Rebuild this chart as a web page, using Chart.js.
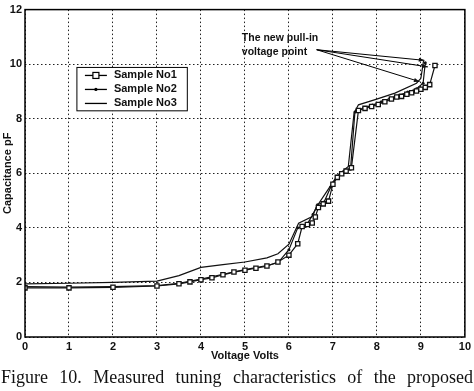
<!DOCTYPE html>
<html>
<head>
<meta charset="utf-8">
<script src="https://cdn.jsdelivr.net/npm/chart.js@4.4.0/dist/chart.umd.min.js"></script>
<style>
  html, body { margin: 0; padding: 0; background: #fff; }
  #wrap { position: relative; width: 474px; height: 391px; overflow: hidden; }
  #chart { position: absolute; left: 0; top: 0; }
  #caption {
    position: absolute; left: 1px; top: 367px; width: 472px;
    font-family: "Liberation Serif", "DejaVu Serif", serif; font-size: 18px;
    line-height: 20px; color: #111; white-space: nowrap;
    text-align: justify; text-align-last: justify;
  }
</style>
</head>
<body>
<div id="wrap">
  <canvas id="chart" width="474" height="391"></canvas>
  <div id="caption">Figure 10. Measured tuning characteristics of the proposed</div>
</div>
<script>
// Sample No1 (open squares)
const volts1 = [0, 1, 2, 3, 3.5, 3.75, 4, 4.25, 4.5, 4.75, 5, 5.25, 5.5, 5.75, 6,
  6.2, 6.3, 6.42, 6.53, 6.6, 6.67, 6.78, 6.9, 7.0, 7.1, 7.2, 7.3, 7.42,
  7.58, 7.73, 7.88, 8.03, 8.18, 8.33, 8.45, 8.56, 8.68, 8.79, 8.9, 9.0, 9.1, 9.2, 9.32];
const cap1 = [1.8, 1.8, 1.82, 1.87, 1.95, 2.02, 2.1, 2.17, 2.28, 2.38, 2.45, 2.52, 2.6, 2.75, 3.0,
  3.42, 4.05, 4.12, 4.18, 4.4, 4.75, 4.88, 4.98, 5.6, 5.85, 5.98, 6.08, 6.2,
  8.3, 8.38, 8.45, 8.52, 8.62, 8.72, 8.8, 8.82, 8.9, 8.95, 9.02, 9.08, 9.15, 9.25, 9.95];

// Sample No2 (small dots)
const volts2 = [0, 1, 2, 3, 3.5, 4, 4.5, 5, 5.5, 5.75, 6, 6.2, 6.4, 6.55, 6.65, 6.8, 6.95,
  7.1, 7.25, 7.4, 7.5, 7.7, 7.9, 8.1, 8.3, 8.5, 8.7, 8.9, 9.05, 9.1];
const cap2 = [1.85, 1.83, 1.85, 1.88, 1.97, 2.12, 2.3, 2.47, 2.62, 2.72, 3.2, 4.0, 4.1, 4.5, 4.85, 4.95, 5.5,
  5.9, 6.05, 6.15, 8.25, 8.4, 8.5, 8.62, 8.75, 8.85, 8.98, 9.1, 9.3, 10.05];

// Sample No3 (plain line)
const volts3 = [0, 1, 2, 3, 3.5, 4, 4.5, 5, 5.5, 5.75, 6, 6.22, 6.52, 6.64, 6.9, 7.05, 7.2,
  7.35, 7.48, 7.58, 7.96, 8.41, 8.9, 9.0, 9.06];
const cap3 = [1.95, 1.97, 2.0, 2.05, 2.25, 2.55, 2.65, 2.75, 2.9, 3.05, 3.4, 4.17, 4.41, 4.8, 5.43, 5.8, 6.05,
  6.25, 8.2, 8.51, 8.7, 8.94, 9.3, 9.48, 10.12];

const seriesNames = ['Sample No1', 'Sample No2', 'Sample No3'];
const xTicks = [0, 1, 2, 3, 4, 5, 6, 7, 8, 9, 10];
const yTicks = [0, 2, 4, 6, 8, 10, 12];

// note "The new pull-in voltage point" (data units)
const noteLines = ['The new pull-in', 'voltage point'];
const noteAt = [4.93, 10.96];
const arrowFrom = [6.63, 10.53];
const arrowTips = [[9.08, 10.14], [9.16, 9.9], [8.97, 9.36]];

function pts(xs, ys) {
  return xs.map(function (x, i) { return { x: x, y: ys[i] }; });
}

const boldFont = '"Liberation Sans", Arial, sans-serif';

const extras = {
  id: 'extras',
  afterDatasetsDraw(chart) {
    const ctx = chart.ctx;
    const a = chart.chartArea;
    const sx = chart.scales.x, sy = chart.scales.y;
    ctx.save();
    // axes box
    ctx.strokeStyle = '#000';
    ctx.lineWidth = 1.5;
    ctx.strokeRect(a.left, a.top, a.right - a.left, a.bottom - a.top);

    // note text + arrows
    ctx.fillStyle = '#111';
    ctx.font = 'bold 10.5px ' + boldFont;
    ctx.textBaseline = 'middle';
    ctx.fillText(noteLines[0], sx.getPixelForValue(noteAt[0]), sy.getPixelForValue(noteAt[1]));
    ctx.fillText(noteLines[1], sx.getPixelForValue(noteAt[0]), sy.getPixelForValue(noteAt[1]) + 14);
    const fx = sx.getPixelForValue(arrowFrom[0]), fy = sy.getPixelForValue(arrowFrom[1]);
    ctx.lineWidth = 1;
    arrowTips.forEach(function (t) {
      const tx = sx.getPixelForValue(t[0]), ty = sy.getPixelForValue(t[1]);
      ctx.beginPath();
      ctx.moveTo(fx, fy);
      ctx.lineTo(tx, ty);
      ctx.stroke();
      const ang = Math.atan2(ty - fy, tx - fx);
      ctx.beginPath();
      ctx.moveTo(tx, ty);
      ctx.lineTo(tx - 6 * Math.cos(ang - 0.35), ty - 6 * Math.sin(ang - 0.35));
      ctx.lineTo(tx - 6 * Math.cos(ang + 0.35), ty - 6 * Math.sin(ang + 0.35));
      ctx.closePath();
      ctx.fill();
    });

    // legend box
    const lx0 = sx.getPixelForValue(1.18), lx1 = sx.getPixelForValue(3.69);
    const ly0 = sy.getPixelForValue(9.88), ly1 = sy.getPixelForValue(8.29);
    ctx.fillStyle = '#fff';
    ctx.fillRect(lx0, ly0, lx1 - lx0, ly1 - ly0);
    ctx.lineWidth = 1;
    ctx.strokeStyle = '#000';
    ctx.strokeRect(lx0, ly0, lx1 - lx0, ly1 - ly0);
    ctx.font = 'bold 11px ' + boldFont;
    ctx.fillStyle = '#111';
    seriesNames.forEach(function (name, i) {
      const y = ly0 + 8 + i * 14;
      ctx.beginPath();
      ctx.lineWidth = 1.3;
      ctx.moveTo(lx0 + 8, y);
      ctx.lineTo(lx0 + 30, y);
      ctx.stroke();
      if (i === 0) {
        ctx.fillStyle = '#fff';
        ctx.fillRect(lx0 + 16, y - 3, 6, 6);
        ctx.lineWidth = 1.2;
        ctx.strokeRect(lx0 + 16, y - 3, 6, 6);
      } else if (i === 1) {
        ctx.fillStyle = '#000';
        ctx.beginPath();
        ctx.arc(lx0 + 19, y, 1.6, 0, Math.PI * 2);
        ctx.fill();
      }
      ctx.fillStyle = '#111';
      ctx.fillText(name, lx0 + 37, y);
    });
    ctx.restore();
  }
};

const lineCommon = { showLine: true, borderColor: '#111', borderWidth: 1.2, tension: 0 };

new Chart(document.getElementById('chart'), {
  type: 'scatter',
  data: {
    datasets: [
      Object.assign({ label: seriesNames[0], data: pts(volts1, cap1), pointStyle: 'rect',
        pointRadius: 3, pointBackgroundColor: '#fff', pointBorderColor: '#111', pointBorderWidth: 1.3 }, lineCommon),
      Object.assign({ label: seriesNames[1], data: pts(volts2, cap2), pointStyle: 'circle',
        pointRadius: 1.5, pointBackgroundColor: '#111', pointBorderColor: '#111', pointBorderWidth: 0 }, lineCommon),
      Object.assign({ label: seriesNames[2], data: pts(volts3, cap3), pointRadius: 0 }, lineCommon)
    ]
  },
  options: {
    responsive: false,
    animation: false,
    layout: { padding: { top: 5, right: 6.5, bottom: 0, left: 0 } },
    plugins: { legend: { display: false }, tooltip: { enabled: false } },
    scales: {
      x: {
        type: 'linear', min: 0, max: 10,
        afterFit: function (s) { s.height = 54; },
        afterBuildTicks: function (s) { s.ticks = xTicks.map(function (v) { return { value: v }; }); },
        grid: { color: '#222', lineWidth: 1, drawTicks: false },
        border: { display: false, dash: [1.5, 2.5] },
        ticks: { color: '#111', padding: 3, font: { family: boldFont, size: 11, weight: 'bold' } },
        title: { display: true, text: 'Voltage Volts', color: '#111',
          font: { family: boldFont, size: 11, weight: 'bold' }, padding: { top: 0, bottom: 28 } }
      },
      y: {
        type: 'linear', min: 0, max: 12,
        afterFit: function (s) { s.width = 25; },
        afterBuildTicks: function (s) { s.ticks = yTicks.map(function (v) { return { value: v }; }); },
        grid: { color: '#222', lineWidth: 1, drawTicks: false },
        border: { display: false, dash: [1.5, 2.5] },
        ticks: { color: '#111', padding: 3, font: { family: boldFont, size: 11, weight: 'bold' } },
        title: { display: true, text: 'Capacitance pF', color: '#111',
          font: { family: boldFont, size: 11, weight: 'bold' }, padding: { top: 1.5, bottom: 0 } }
      }
    }
  },
  plugins: [extras]
});
</script>
</body>
</html>
